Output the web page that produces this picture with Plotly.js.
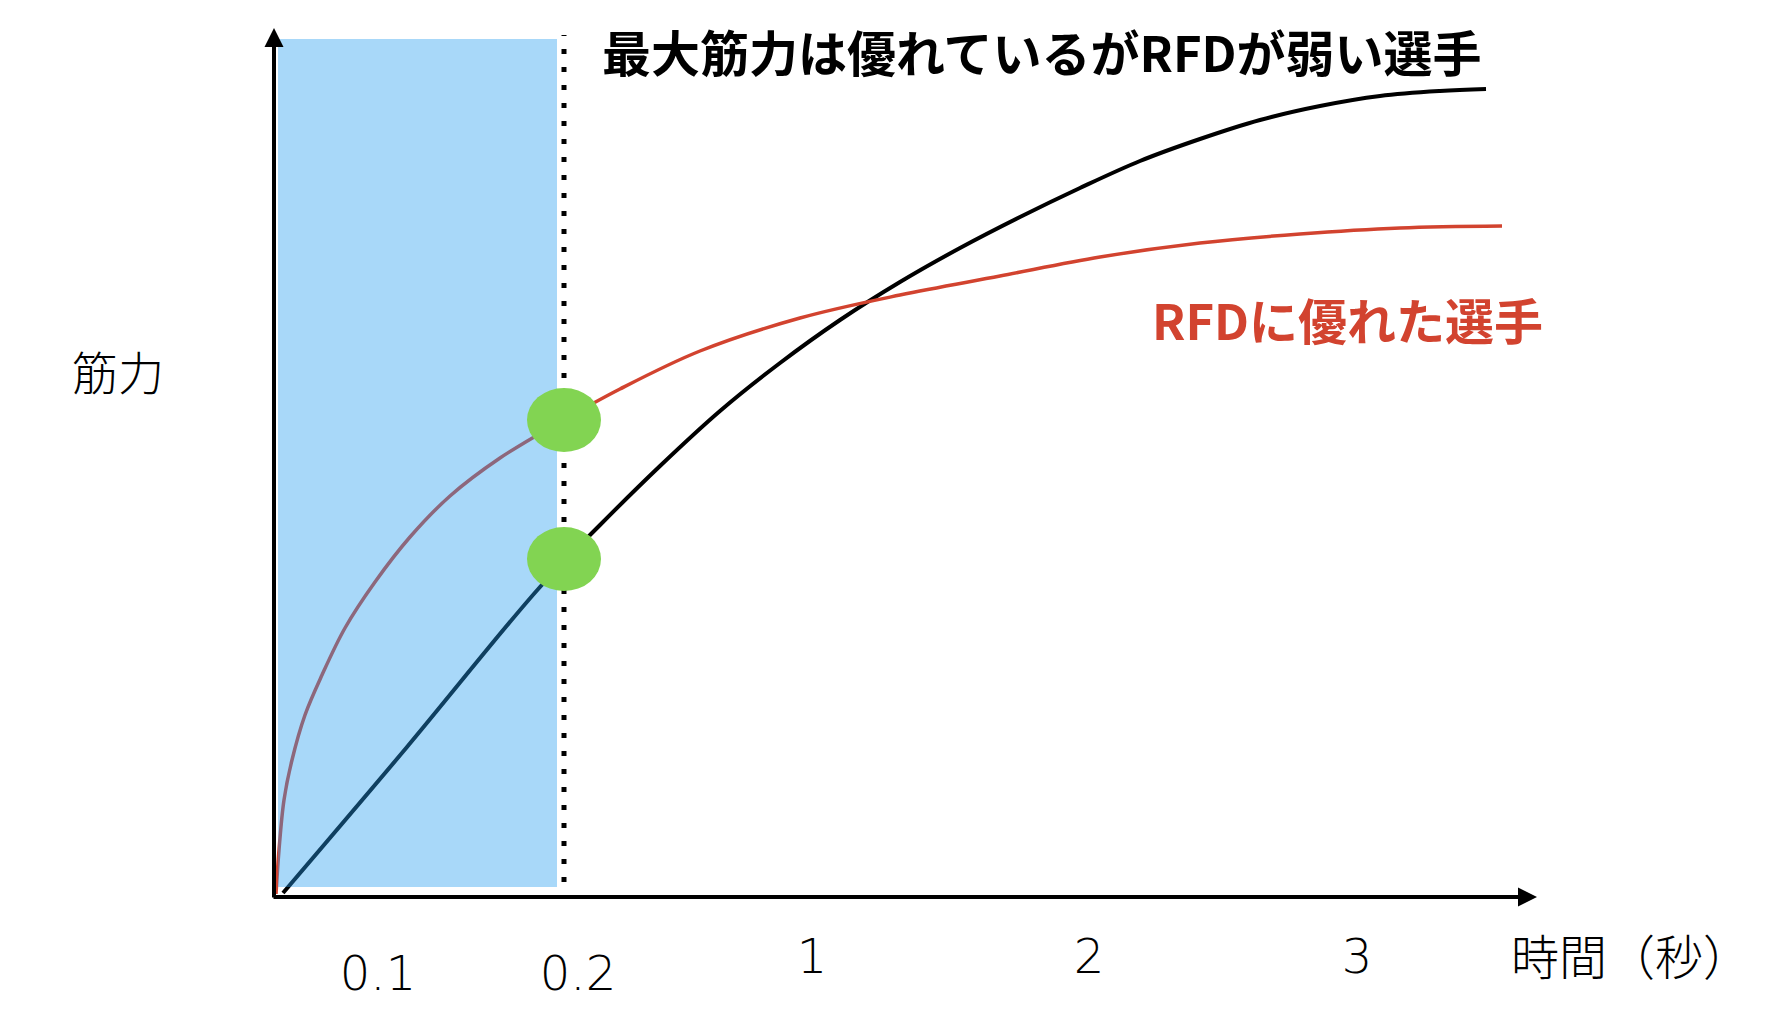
<!DOCTYPE html>
<html>
<head>
<meta charset="utf-8">
<script src="https://cdn.plot.ly/plotly-3.0.1.min.js"></script>
<style>
  html, body { margin: 0; padding: 0; background: #ffffff; }
  #chart { width: 1775px; height: 1027px; }
</style>
</head>
<body>
<div id="chart"></div>
<script>
// ---- Data (schematic units) ----
// Strong-max-force athlete (black): slow rise, high plateau
const blackX = [0.09, 1.33, 2.66, 3.26, 3.86, 4.46, 5.06, 5.66, 6.26, 6.86, 7.46, 8.06, 8.66, 9.26, 9.86, 10.46, 11.06, 11.66, 12.12];
const blackY = [0.04, 1.50, 3.10, 3.72, 4.31, 4.86, 5.34, 5.77, 6.15, 6.49, 6.80, 7.09, 7.36, 7.58, 7.77, 7.91, 8.01, 8.06, 8.08];
// High-RFD athlete (red): steep rise, lower plateau
const redX = [0.02, 0.05, 0.10, 0.18, 0.31, 0.48, 0.71, 1.01, 1.36, 1.76, 2.26, 2.86, 3.46, 4.26, 5.26, 6.26, 7.26, 8.26, 9.26, 10.26, 11.26, 12.28];
const redY = [0.03, 0.47, 0.97, 1.37, 1.82, 2.22, 2.69, 3.15, 3.60, 4.01, 4.39, 4.75, 5.08, 5.46, 5.79, 6.02, 6.21, 6.40, 6.54, 6.63, 6.69, 6.71];
// Highlighted points at the 0.2 s mark
const markX = [2.90, 2.90];
const markY = [4.77, 3.38];
// Time-axis tick labels (schematic, non-linear axis)
const majorTickPos = [5.38, 8.15, 10.83];
const majorTickText = ['1', '2', '3'];
const minorTickPos = [1.04, 3.04];
const minorTickText = ['0.1', '0.2'];
// Texts
const titleText = '最大筋力は優れているがRFDが弱い選手';
const redLabel = 'RFDに優れた選手';
const yLabel = '筋力';
const xLabel = '時間（秒）';

// ---- Layout constants ----
const FONT = '"Noto Sans CJK JP", "Noto Sans", sans-serif';
const NUMFONT = '"DejaVu Sans", "Noto Sans", sans-serif';
const X_MAX = 12.63, Y_MAX = 8.69;
const markerGreen = '#82d452';
const redColor = '#d2432f';

const traces = [
  { x: blackX, y: blackY, mode: 'lines', type: 'scatter', hoverinfo: 'skip',
    line: { color: '#000000', width: 4, shape: 'spline', smoothing: 1 } },
  { x: redX, y: redY, mode: 'lines', type: 'scatter', hoverinfo: 'skip',
    line: { color: redColor, width: 3.5, shape: 'spline', smoothing: 1 } },
  // invisible trace to activate the secondary (0.1 / 0.2) tick axis
  { x: [0], y: [0], xaxis: 'x2', mode: 'markers', marker: { opacity: 0 }, hoverinfo: 'skip' }
];

const shapes = [
  // shaded 0-0.2 s window (translucent, drawn over the curves)
  { type: 'rect', layer: 'above', xref: 'x', yref: 'y', x0: 0.04, x1: 2.83, y0: 0.10, y1: 8.58,
    fillcolor: 'rgb(38,158,240)', opacity: 0.4, line: { width: 0 } },
  // dotted 0.2 s marker line
  { type: 'line', layer: 'above', xref: 'x', yref: 'y', x0: markX[0], x1: markX[0], y0: 0.15, y1: 8.62,
    line: { color: '#000000', width: 5, dash: '5px,13px' } }
];
markX.forEach((mx, i) => {
  shapes.push({ type: 'circle', layer: 'above', xref: 'x', yref: 'y',
    xsizemode: 'pixel', ysizemode: 'pixel', xanchor: mx, yanchor: markY[i],
    x0: -37, x1: 37, y0: -32, y1: 32, fillcolor: markerGreen, line: { width: 0 } });
});

const annotations = [
  // axes with arrowheads
  { x: 0, y: Y_MAX, ax: 0, ay: -0.02, xref: 'x', yref: 'y', axref: 'x', ayref: 'y', text: '',
    showarrow: true, arrowhead: 2, arrowsize: 0.95, arrowwidth: 4, arrowcolor: '#000000', standoff: 0, startstandoff: 0 },
  { x: X_MAX, y: 0, ax: -0.02, ay: 0, xref: 'x', yref: 'y', axref: 'x', ayref: 'y', text: '',
    showarrow: true, arrowhead: 2, arrowsize: 0.95, arrowwidth: 4, arrowcolor: '#000000', standoff: 0, startstandoff: 0 },
  { x: 7.68, y: 8.47, xref: 'x', yref: 'y', text: '<b>' + titleText + '</b>', showarrow: false,
    xanchor: 'center', yanchor: 'middle', font: { family: FONT, size: 49, color: '#000000' } },
  { x: 10.73, y: 5.79, xref: 'x', yref: 'y', text: '<b>' + redLabel + '</b>', showarrow: false,
    xanchor: 'center', yanchor: 'middle', font: { family: FONT, size: 49, color: redColor } },
  { x: -0.1239, y: 0.6064, xref: 'paper', yref: 'paper', text: yLabel, showarrow: false,
    xanchor: 'center', yanchor: 'middle', font: { family: FONT, size: 46, color: '#000000', weight: 300 } },
  { x: 0.9778, y: -0.066, xref: 'paper', yref: 'paper', text: xLabel, showarrow: false,
    xanchor: 'left', yanchor: 'middle', font: { family: FONT, size: 48, color: '#000000', weight: 300 } }
];

const baseAxis = {
  range: [0, X_MAX], showgrid: false, zeroline: false, showline: false, ticks: '',
  fixedrange: true, tickfont: { family: NUMFONT, size: 48, color: '#000000', weight: 200 }
};

const layout = {
  width: 1775, height: 1027,
  margin: { l: 274, r: 238, t: 28, b: 130, pad: 0 },
  paper_bgcolor: '#ffffff', plot_bgcolor: '#ffffff',
  showlegend: false,
  xaxis: Object.assign({}, baseAxis, { tickmode: 'array', tickvals: majorTickPos, ticktext: majorTickText,
    ticklabelstandoff: 27 }),
  xaxis2: Object.assign({}, baseAxis, { overlaying: 'x', anchor: 'y', side: 'bottom', tickmode: 'array',
    tickvals: minorTickPos, ticktext: minorTickText, ticklabelstandoff: 44 }),
  yaxis: { range: [0, Y_MAX], showgrid: false, zeroline: false, showline: false, showticklabels: false,
    ticks: '', fixedrange: true },
  shapes: shapes,
  annotations: annotations
};

Plotly.newPlot('chart', traces, layout, { staticPlot: true, displayModeBar: false });
</script>
</body>
</html>
